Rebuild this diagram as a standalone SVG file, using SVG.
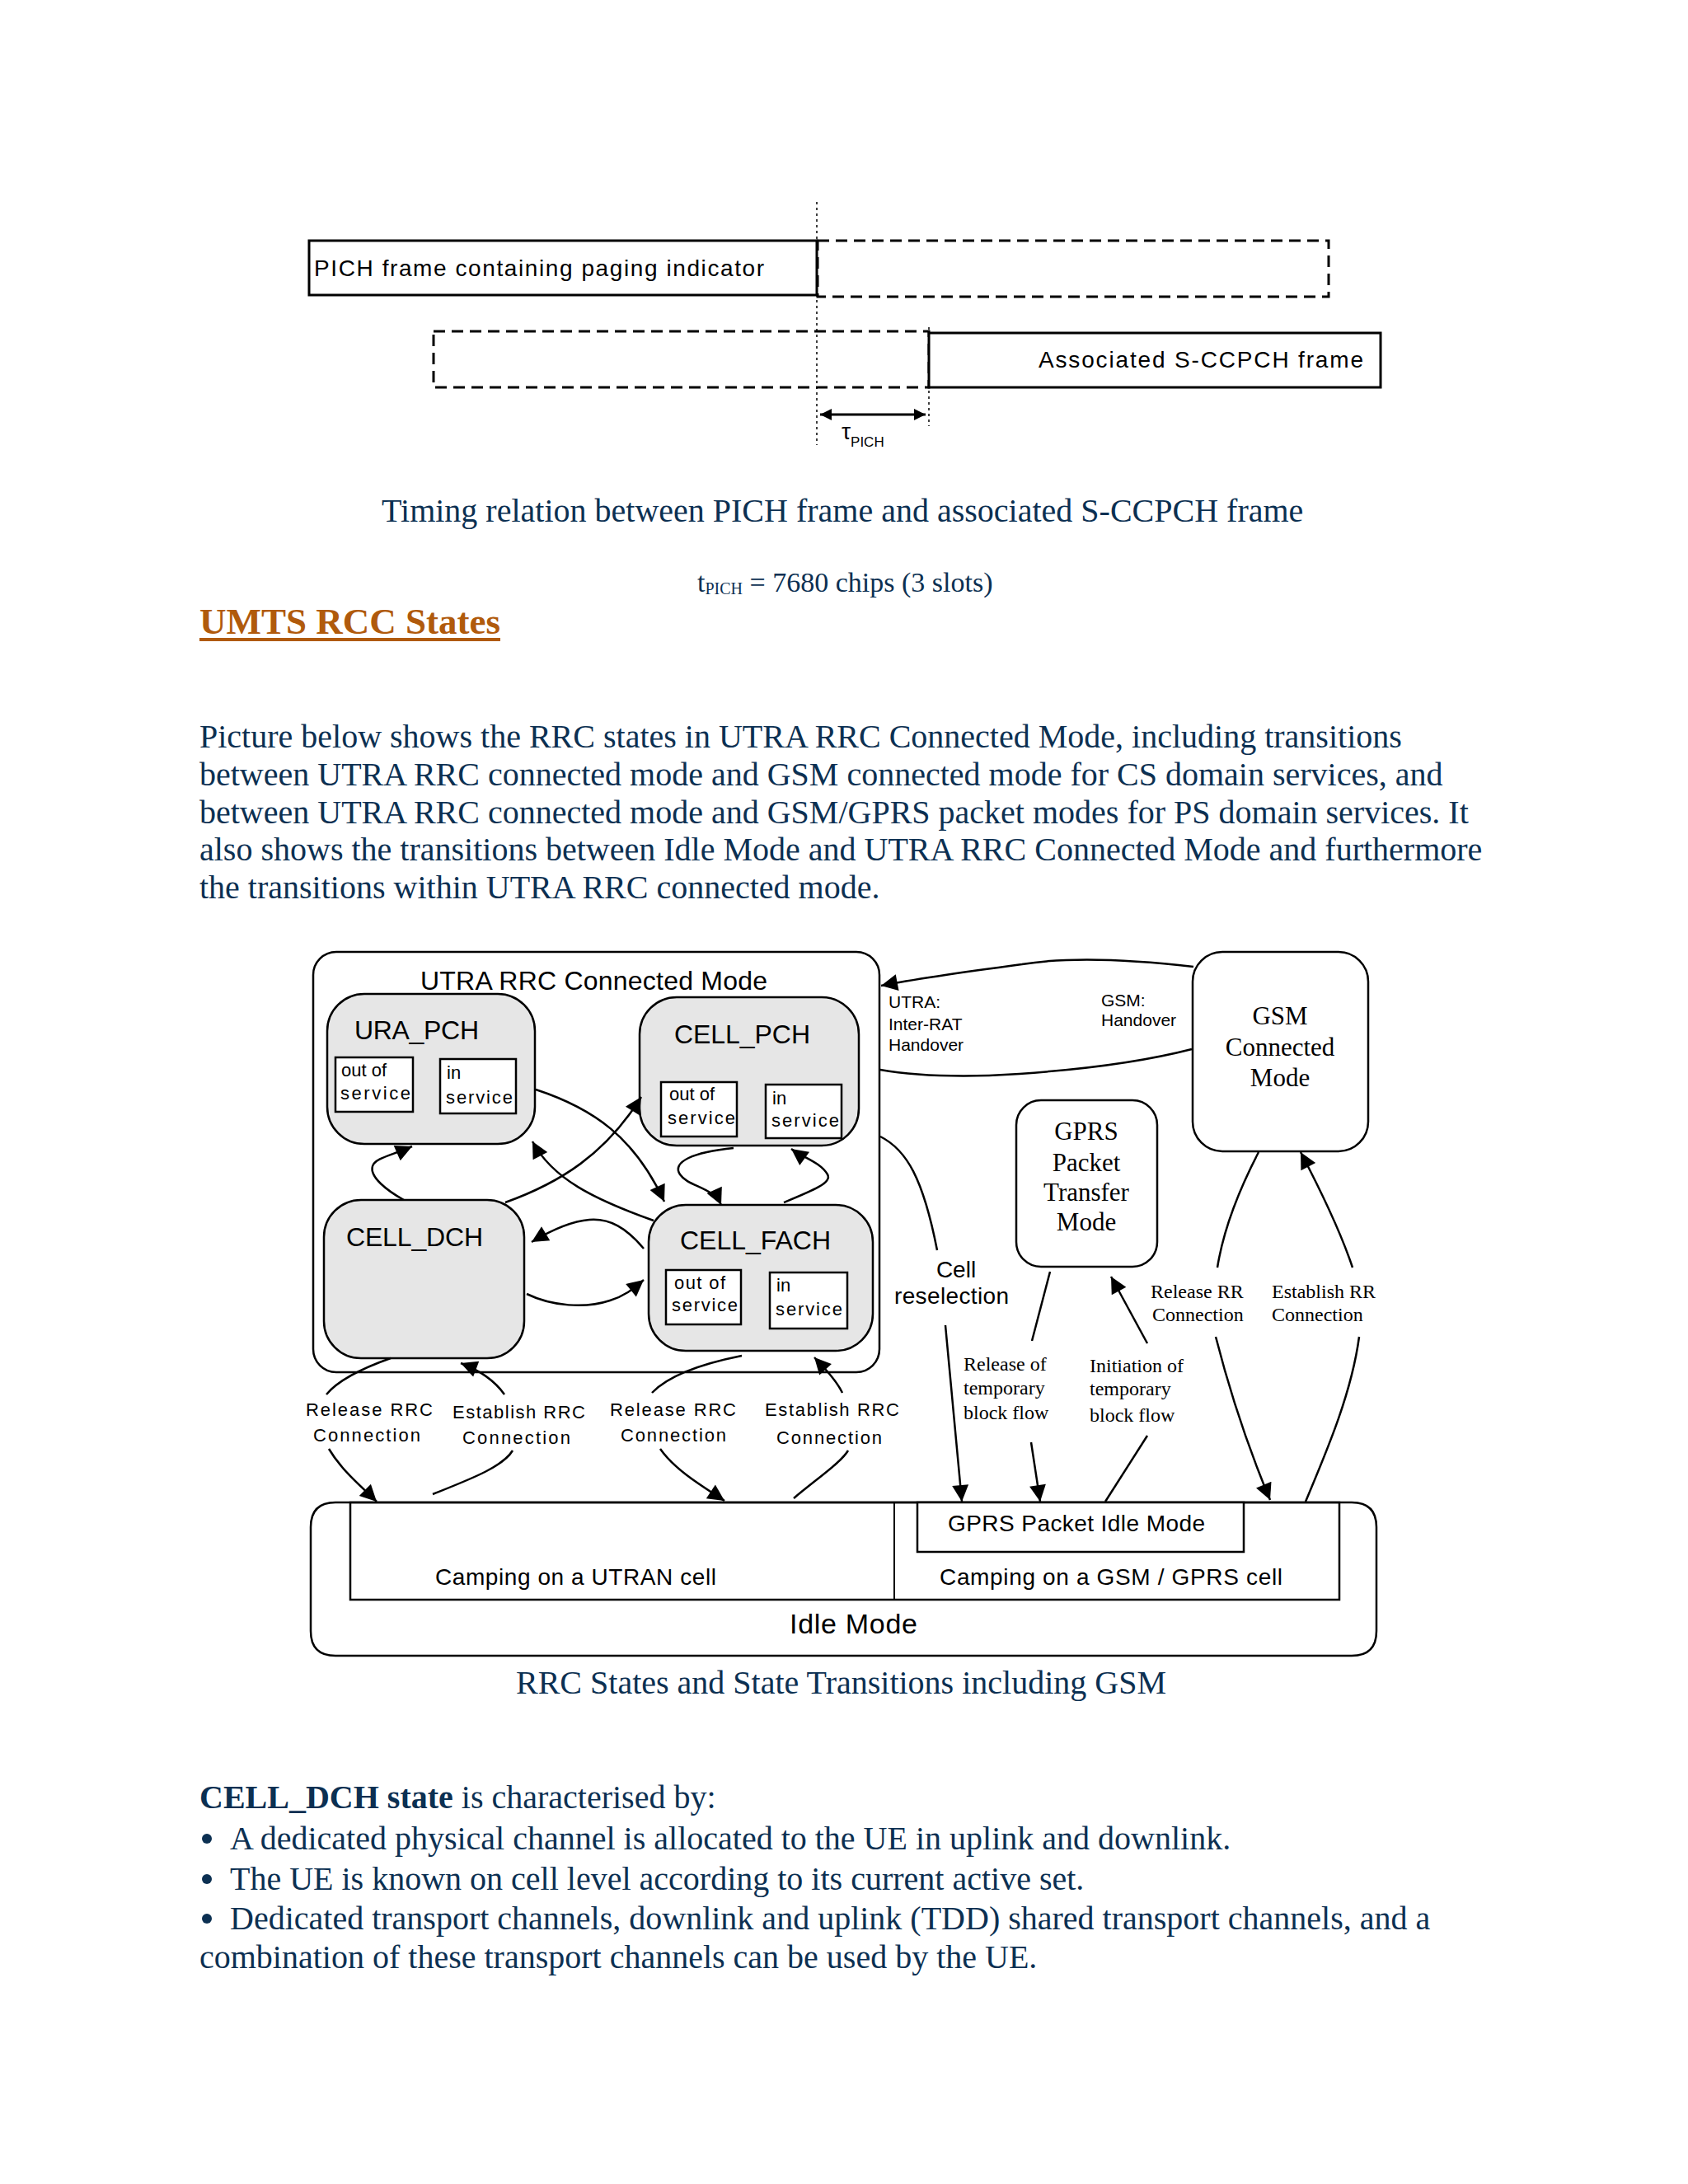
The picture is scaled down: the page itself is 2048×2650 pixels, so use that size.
<svg xmlns="http://www.w3.org/2000/svg" width="2048" height="2650" viewBox="0 0 2048 2650">
<style>
.body{font-family:"Liberation Serif","Times New Roman",serif;font-size:40px;fill:#0c3052}
.ss{font-family:"Liberation Sans",Arial,sans-serif;fill:#000}
.sf{font-family:"Liberation Serif","Times New Roman",serif;fill:#000}
.ln{fill:none;stroke:#000;stroke-width:2.5}
.box{fill:#fff;stroke:#000;stroke-width:2.5}
.st{fill:#e6e6e6;stroke:#000;stroke-width:2.5}
.sub{fill:#fff;stroke:#000;stroke-width:2.5}
.dash{fill:none;stroke:#000;stroke-width:3;stroke-dasharray:14 8}
.dot{fill:none;stroke:#000;stroke-width:1.5;stroke-dasharray:3 4}
</style>
<defs>
<marker id="ah" viewBox="0 0 10 10" refX="10" refY="5" markerWidth="24" markerHeight="20" orient="auto" markerUnits="userSpaceOnUse">
<path d="M0,0 L10,5 L0,10 z" fill="#000"/>
</marker>
<marker id="ahs" viewBox="0 0 10 10" refX="10" refY="5" markerWidth="18" markerHeight="14" orient="auto-start-reverse" markerUnits="userSpaceOnUse">
<path d="M0,0 L10,5 L0,10 z" fill="#000"/>
</marker>
</defs>
<rect width="2048" height="2650" fill="#fff"/>

<!-- Timing diagram -->
<g id="pich-frame">
<rect x="375" y="292" width="616" height="66" fill="#fff" stroke="#000" stroke-width="3"/>
<text class="ss" x="381" y="335" font-size="28" textLength="546">PICH frame containing paging indicator</text>
</g>
<g id="pich-next">
<rect x="992" y="292" width="620" height="68" class="dash"/>
</g>
<g id="sccpch-prev">
<rect x="526" y="402" width="601" height="68" class="dash"/>
</g>
<g id="sccpch-frame">
<rect x="1127" y="404" width="548" height="66" fill="#fff" stroke="#000" stroke-width="3"/>
<text class="ss" x="1260" y="446" font-size="28" textLength="394">Associated S-CCPCH frame</text>
</g>
<g id="timing-marks">
<line x1="991" y1="245" x2="991" y2="540" class="dot"/>
<line x1="1127" y1="397" x2="1127" y2="517" class="dot"/>
<line x1="995" y1="503" x2="1123" y2="503" stroke="#000" stroke-width="3" marker-start="url(#ahs)" marker-end="url(#ahs)"/>
<text class="ss" x="1021" y="533" font-size="28">τ<tspan font-size="17" dy="9">PICH</tspan></text>
</g>

<text class="body" x="463" y="633">Timing relation between PICH frame and associated S-CCPCH frame</text>
<text class="body" x="846" y="718" style="font-size:34px">t<tspan style="font-size:20px" dy="3">PICH</tspan><tspan dy="-3"> = 7680 chips (3 slots)</tspan></text>

<text x="242" y="769" font-family="Liberation Serif, Times New Roman, serif" font-size="45" font-weight="bold" fill="#b05a0c">UMTS RCC States</text>
<rect x="242" y="774" width="365" height="4" fill="#b05a0c"/>

<text class="body" x="242" y="907">Picture below shows the RRC states in UTRA RRC Connected Mode, including transitions</text>
<text class="body" x="242" y="953">between UTRA RRC connected mode and GSM connected mode for CS domain services, and</text>
<text class="body" x="242" y="999">between UTRA RRC connected mode and GSM/GPRS packet modes for PS domain services. It</text>
<text class="body" x="242" y="1044">also shows the transitions between Idle Mode and UTRA RRC Connected Mode and furthermore</text>
<text class="body" x="242" y="1090">the transitions within UTRA RRC connected mode.</text>

<!-- State diagram -->
<g id="utra-connected">
<rect x="380" y="1155" width="687" height="510" rx="28" class="box"/>
<text class="ss" x="510" y="1201" font-size="32" textLength="421">UTRA RRC Connected Mode</text>
</g>
<g id="ura-pch">
<rect x="397" y="1206" width="252" height="182" rx="45" class="st"/>
<text class="ss" x="430" y="1261" font-size="32" textLength="151">URA_PCH</text>
<rect x="407" y="1283" width="94" height="66" class="sub"/>
<text class="ss" x="414" y="1306" font-size="22" textLength="55">out of</text>
<text class="ss" x="413" y="1334" font-size="22" textLength="85">service</text>
<rect x="534" y="1285" width="92" height="66" class="sub"/>
<text class="ss" x="542" y="1309" font-size="22">in</text>
<text class="ss" x="541" y="1339" font-size="22" textLength="81">service</text>
</g>
<g id="cell-pch">
<rect x="776" y="1210" width="266" height="180" rx="45" class="st"/>
<text class="ss" x="818" y="1266" font-size="32" textLength="165">CELL_PCH</text>
<rect x="802" y="1313" width="92" height="66" class="sub"/>
<text class="ss" x="812" y="1335" font-size="22" textLength="55">out of</text>
<text class="ss" x="810" y="1364" font-size="22" textLength="82">service</text>
<rect x="929" y="1316" width="92" height="65" class="sub"/>
<text class="ss" x="937" y="1340" font-size="22">in</text>
<text class="ss" x="936" y="1367" font-size="22" textLength="82">service</text>
</g>
<g id="cell-dch">
<rect x="393" y="1456" width="243" height="192" rx="45" class="st"/>
<text class="ss" x="420" y="1512" font-size="32" textLength="166">CELL_DCH</text>
</g>
<g id="cell-fach">
<rect x="787" y="1462" width="272" height="177" rx="45" class="st"/>
<text class="ss" x="825" y="1516" font-size="32" textLength="183">CELL_FACH</text>
<rect x="808" y="1541" width="91" height="66" class="sub"/>
<text class="ss" x="818" y="1564" font-size="22" textLength="62">out of</text>
<text class="ss" x="815" y="1591" font-size="22" textLength="80">service</text>
<rect x="934" y="1544" width="94" height="68" class="sub"/>
<text class="ss" x="942" y="1567" font-size="22">in</text>
<text class="ss" x="941" y="1596" font-size="22" textLength="81">service</text>
</g>
<g id="gsm-connected">
<rect x="1447" y="1155" width="213" height="242" rx="36" class="box"/>
<text class="sf" x="1553" y="1243" font-size="31" text-anchor="middle">GSM</text>
<text class="sf" x="1553" y="1281" font-size="31" text-anchor="middle">Connected</text>
<text class="sf" x="1553" y="1318" font-size="31" text-anchor="middle">Mode</text>
</g>
<g id="gprs-transfer">
<rect x="1233" y="1335" width="171" height="202" rx="30" class="box"/>
<text class="sf" x="1318" y="1383" font-size="31" text-anchor="middle">GPRS</text>
<text class="sf" x="1318" y="1421" font-size="31" text-anchor="middle">Packet</text>
<text class="sf" x="1318" y="1457" font-size="31" text-anchor="middle">Transfer</text>
<text class="sf" x="1318" y="1493" font-size="31" text-anchor="middle">Mode</text>
</g>
<g id="idle-mode">
<path d="M407,1823 L1640,1823 Q1670,1823 1670,1853 L1670,1979 Q1670,2009 1640,2009 L407,2009 Q377,2009 377,1979 L377,1853 Q377,1823 407,1823 Z" class="box"/>
<rect x="425" y="1823" width="1200" height="118" fill="none" stroke="#000" stroke-width="2.5"/>
<line x1="1085" y1="1823" x2="1085" y2="1941" stroke="#000" stroke-width="2"/>
<text class="ss" x="528" y="1923" font-size="28" textLength="341">Camping on a UTRAN cell</text>
<text class="ss" x="1140" y="1923" font-size="28" textLength="416">Camping on a GSM / GPRS cell</text>
<text class="ss" x="958" y="1982" font-size="34" textLength="155">Idle Mode</text>
</g>
<g id="gprs-idle">
<rect x="1113" y="1823" width="396" height="60" fill="#fff" stroke="#000" stroke-width="2.5"/>
<text class="ss" x="1150" y="1858" font-size="28" textLength="312">GPRS Packet Idle Mode</text>
</g>

<g id="connectors">
<path class="ln" d="M490,1456 C470,1445 448,1428 452,1415 C455,1405 475,1402 500,1391" marker-end="url(#ah)"/>
<path class="ln" d="M650,1322 C720,1345 770,1380 806,1458" marker-end="url(#ah)"/>
<path class="ln" d="M613,1459 C680,1435 735,1400 778,1331" marker-end="url(#ah)"/>
<path class="ln" d="M793,1481 C720,1455 670,1430 646,1385" marker-end="url(#ah)"/>
<path class="ln" d="M890,1393 C840,1398 815,1410 825,1425 C835,1440 865,1440 875,1462" marker-end="url(#ah)"/>
<path class="ln" d="M951,1459 C985,1445 1010,1435 1004,1425 C995,1410 975,1405 960,1394" marker-end="url(#ah)"/>
<path class="ln" d="M781,1515 C760,1490 740,1478 715,1480 C690,1482 665,1495 645,1507" marker-end="url(#ah)"/>
<path class="ln" d="M639,1570 C670,1585 710,1588 740,1578 C760,1572 770,1562 781,1553" marker-end="url(#ah)"/>

<path class="ln" d="M474,1648 C440,1660 410,1675 396,1692"/>
<path class="ln" d="M399,1758 C415,1785 440,1805 457,1822" marker-end="url(#ah)"/>
<path class="ln" d="M525,1813 C570,1795 610,1780 622,1760"/>
<path class="ln" d="M612,1692 C600,1675 580,1662 559,1654" marker-end="url(#ah)"/>
<path class="ln" d="M900,1645 C850,1655 810,1670 791,1690"/>
<path class="ln" d="M801,1758 C820,1785 855,1805 879,1821" marker-end="url(#ah)"/>
<path class="ln" d="M963,1818 C990,1795 1020,1775 1029,1760"/>
<path class="ln" d="M1022,1690 C1015,1675 1000,1660 988,1647" marker-end="url(#ah)"/>

<path class="ln" d="M1448,1173 C1380,1165 1300,1160 1240,1170 C1180,1178 1110,1188 1069,1196" marker-end="url(#ah)"/>
<path class="ln" d="M1446,1273 C1380,1290 1300,1300 1200,1305 C1130,1307 1090,1302 1068,1298"/>
<path class="ln" d="M1068,1379 C1100,1395 1120,1430 1137,1517"/>
<path class="ln" d="M1147,1608 L1167,1822" marker-end="url(#ah)"/>
<path class="ln" d="M1274,1543 L1252,1627"/>
<path class="ln" d="M1251,1750 L1262,1822" marker-end="url(#ah)"/>
<path class="ln" d="M1341,1822 L1392,1742"/>
<path class="ln" d="M1392,1630 L1348,1549" marker-end="url(#ah)"/>
<path class="ln" d="M1527,1398 C1500,1450 1483,1500 1477,1538"/>
<path class="ln" d="M1475,1622 C1495,1700 1520,1770 1541,1820" marker-end="url(#ah)"/>
<path class="ln" d="M1584,1822 C1610,1760 1640,1690 1649,1622"/>
<path class="ln" d="M1641,1538 C1625,1490 1600,1440 1578,1398" marker-end="url(#ah)"/>
</g>

<g id="connector-labels">
<text class="ss" x="371" y="1718" font-size="22" textLength="154">Release RRC</text>
<text class="ss" x="380" y="1749" font-size="22" textLength="130">Connection</text>
<text class="ss" x="549" y="1721" font-size="22" textLength="161">Establish RRC</text>
<text class="ss" x="561" y="1752" font-size="22" textLength="131">Connection</text>
<text class="ss" x="740" y="1718" font-size="22" textLength="153">Release RRC</text>
<text class="ss" x="753" y="1749" font-size="22" textLength="128">Connection</text>
<text class="ss" x="928" y="1718" font-size="22" textLength="163">Establish RRC</text>
<text class="ss" x="942" y="1752" font-size="22" textLength="128">Connection</text>
<text class="ss" x="1078" y="1223" font-size="21">UTRA:</text>
<text class="ss" x="1078" y="1250" font-size="21">Inter-RAT</text>
<text class="ss" x="1078" y="1275" font-size="21">Handover</text>
<text class="ss" x="1336" y="1221" font-size="21">GSM:</text>
<text class="ss" x="1336" y="1245" font-size="21">Handover</text>
<text class="ss" x="1160" y="1550" font-size="28" text-anchor="middle">Cell</text>
<text class="ss" x="1085" y="1582" font-size="28" textLength="139">reselection</text>
<text class="sf" x="1169" y="1663" font-size="24">Release of</text>
<text class="sf" x="1169" y="1692" font-size="24">temporary</text>
<text class="sf" x="1169" y="1722" font-size="24">block flow</text>
<text class="sf" x="1322" y="1665" font-size="24">Initiation of</text>
<text class="sf" x="1322" y="1693" font-size="24">temporary</text>
<text class="sf" x="1322" y="1725" font-size="24">block flow</text>
<text class="sf" x="1396" y="1575" font-size="24">Release RR</text>
<text class="sf" x="1398" y="1603" font-size="24">Connection</text>
<text class="sf" x="1543" y="1575" font-size="24">Establish RR</text>
<text class="sf" x="1543" y="1603" font-size="24">Connection</text>
</g>

<text class="body" x="626" y="2055">RRC States and State Transitions including GSM</text>

<text class="body" x="242" y="2194"><tspan font-weight="bold">CELL_DCH state</tspan> is characterised by:</text>
<circle cx="251" cy="2231" r="6" fill="#0c3052"/>
<text class="body" x="279" y="2244">A dedicated physical channel is allocated to the UE in uplink and downlink.</text>
<circle cx="251" cy="2280" r="6" fill="#0c3052"/>
<text class="body" x="279" y="2293">The UE is known on cell level according to its current active set.</text>
<circle cx="251" cy="2328" r="6" fill="#0c3052"/>
<text class="body" x="279" y="2341">Dedicated transport channels, downlink and uplink (TDD) shared transport channels, and a</text>
<text class="body" x="242" y="2388">combination of these transport channels can be used by the UE.</text>
</svg>
